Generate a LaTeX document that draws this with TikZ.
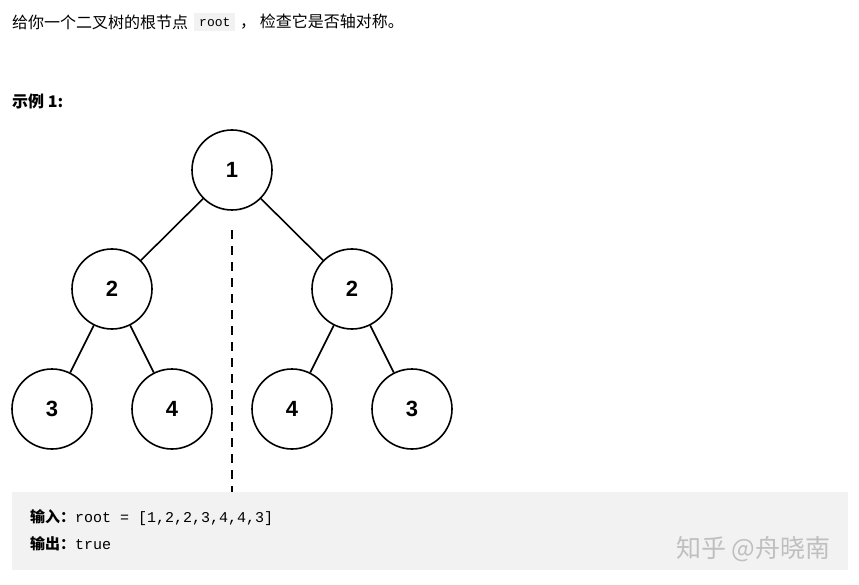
\documentclass[tikz,border=0pt]{standalone}
\usepackage{fontspec}
\setmainfont{Liberation Sans}
\newfontfamily\cjk{Noto Sans CJK SC}
\setmonofont{Liberation Mono}
\begin{document}
\begin{tikzpicture}[x=1pt,y=-1pt,
  tn/.style={circle,draw,line width=1.6pt,minimum size=80pt,inner sep=0pt,font=\fontsize{22}{22}\selectfont\bfseries},
  edge/.style={line width=1.6pt},
  txt/.style={anchor=west,inner sep=0pt}]
\useasboundingbox (0,0) rectangle (859,585);
\fill[white] (0,0) rectangle (859,585);
\node[txt,font=\cjk\fontsize{16}{16}\selectfont] (t1) at (12,22) {给你一个二叉树的根节点};
\node[txt,fill=black!5,inner xsep=5pt,inner ysep=5pt,font=\ttfamily\fontsize{13}{13}\selectfont] (code) at (194,22) {root};
\node[txt,font=\cjk\fontsize{16}{16}\selectfont] (t2) at (240,22) {，\ 检查它是否轴对称。};
\node[txt,font=\cjk\fontsize{16}{16}\selectfont\bfseries] (ex) at (12,101) {示例 \textbf{1:}};
\node[tn] (a) at (232,170) {1};
\node[tn] (b) at (112,289) {2};
\node[tn] (c) at (352,289) {2};
\node[tn] (d) at (52,409) {3};
\node[tn] (e) at (172,409) {4};
\node[tn] (f) at (292,409) {4};
\node[tn] (g) at (412,409) {3};
\draw[edge] (a) -- (b); \draw[edge] (a) -- (c);
\draw[edge] (b) -- (d); \draw[edge] (b) -- (e);
\draw[edge] (c) -- (f); \draw[edge] (c) -- (g);
\coordinate (m1) at (232,230); \coordinate (m2) at (232,492);
\draw[line width=2.8pt,dash pattern=on 9pt off 7pt] (m1) -- (m2);
\fill[black!5] (12,492) rectangle (848,570);
\node[txt,font=\fontsize{15}{15}\selectfont] (in) at (30,518) {{\cjk\bfseries 输入：}\ttfamily root = [1,2,2,3,4,4,3]};
\node[txt,font=\fontsize{15}{15}\selectfont] (out) at (30,544) {{\cjk\bfseries 输出：}\ttfamily true};
\node[txt,font=\cjk\fontsize{25}{25}\selectfont,text=black!25] (wm) at (676,549) {知乎 @舟晓南};
\end{tikzpicture}
\end{document}
